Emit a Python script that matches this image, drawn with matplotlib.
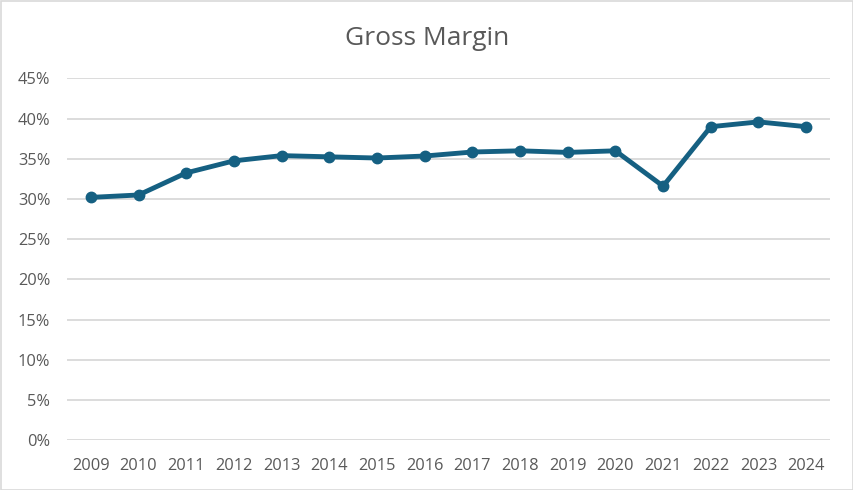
import matplotlib
matplotlib.use('Agg')
import matplotlib.pyplot as plt
from matplotlib.patches import Rectangle
from matplotlib.ticker import FuncFormatter, MultipleLocator

years = ['2009', '2010', '2011', '2012', '2013', '2014', '2015', '2016',
         '2017', '2018', '2019', '2020', '2021', '2022', '2023', '2024']
gross_margin = [30.2, 30.5, 33.25, 34.75, 35.4, 35.25, 35.1, 35.35,
                35.85, 36.0, 35.8, 36.0, 31.6, 39.0, 39.6, 39.0]

line_color = '#156082'
text_color = '#595959'
grid_color = '#D9D9D9'

plt.rcParams['font.family'] = ['Open Sans', 'DejaVu Sans']

fig = plt.figure(figsize=(8.54, 4.9), dpi=100)
ax = fig.add_axes([67 / 854, 1 - 440 / 490, (830 - 67) / 854, (440 - 78.5) / 490])

xs = range(len(years))
ax.plot(xs, gross_margin, color=line_color, lw=3.5, marker='o', markersize=7.5,
        solid_capstyle='round', solid_joinstyle='round', zorder=3)

ax.set_xlim(-0.5, len(years) - 0.5)
ax.set_ylim(0, 45)
ax.set_xticks(list(xs))
ax.set_xticklabels(years)
ax.yaxis.set_major_locator(MultipleLocator(5))
ax.yaxis.set_major_formatter(FuncFormatter(lambda v, p: '{:.0f}%'.format(v)))

ax.grid(axis='y', color=grid_color, lw=1.3)
ax.set_axisbelow(True)
for s in ax.spines.values():
    s.set_visible(False)
ax.tick_params(axis='both', length=0, labelsize=11.8, colors=text_color)
ax.tick_params(axis='y', pad=12)
ax.tick_params(axis='x', pad=13)

fig.text(0.5, 1 - 45 / 490, 'Gross Margin', ha='center', va='baseline',
         fontsize=19, color=text_color)

fig.patches.append(Rectangle((0.5 / 854, 0.5 / 490), 852.5 / 854, 488 / 490,
                             transform=fig.transFigure, fill=False,
                             edgecolor='#D9D9D9', lw=1.2))

fig.savefig('out.png', dpi=100)
